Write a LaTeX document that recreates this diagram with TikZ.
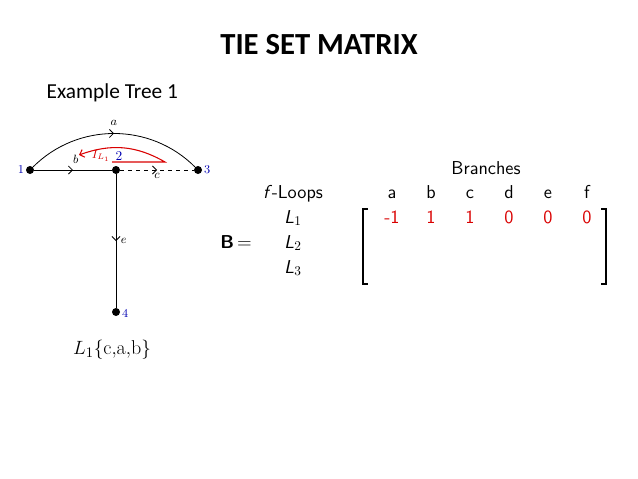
\documentclass[tikz,border=0pt]{standalone}
\usepackage{fontspec}
\newfontfamily\carl{Carlito}
\usetikzlibrary{decorations.markings,arrows.meta}
\begin{document}
\begin{tikzpicture}[x=0.75pt,y=-0.75pt,
  dot/.style={circle,fill,inner sep=0pt,minimum size=6pt},
  num/.style={text=blue!70!black,font=\small},
  lbl/.style={font=\small},
  edge/.style={semithick},
  mid/.style={postaction={decorate},decoration={markings,mark=at position .5 with {\arrow{Straight Barb[length=3pt]}}}},
  mx/.style={font=\sffamily\fontsize{14}{16}\selectfont,anchor=base},
  red/.style={mx,text=red!85!black}]
\useasboundingbox (0,0) rectangle (638,478);
\node[font=\carl\bfseries\fontsize{23}{27}\selectfont] (t) at (319,45) {TIE SET MATRIX};
\node[anchor=west,font=\carl\fontsize{16}{19}\selectfont] (ex) at (42,93) {Example Tree 1};
\node[dot] (n1) at (30,170) {};
\node[dot] (n2) at (116,170) {};
\node[dot] (n3) at (198,170) {};
\node[dot] (n4) at (116,312) {};
\node[num,left,xshift=-1pt] at (n1) {1};
\node[num,right,xshift=1pt] at (n3) {3};
\node[num,right,xshift=1pt,yshift=-1pt] at (n4) {4};
\draw[edge,mid] (n1) -- node[above,lbl,pos=.5,xshift=2pt,yshift=1pt]{$b$} (n2);
\draw[edge,mid,dashed] (n2) -- node[below,lbl,pos=.5,yshift=1pt]{$c$} (n3);
\draw[edge,mid] (n2) -- node[right,lbl,pos=.5]{$e$} (n4);
\draw[edge,mid] (n1) to[out=45,in=135] node[above,lbl,yshift=2pt]{$a$} (n3);
\draw[red!85!black,thick,-{Straight Barb[length=3pt]}] (112,162) -- (165,162) to[out=150,in=20] (79,155);
\node[text=red!85!black,lbl] at (101,156) {$I_{L_1}$};
\node[num,font=\normalsize] at (119,156) {2};
\node[font=\fontsize{15}{18}\selectfont] (lab) at (112,350) {$L_1\{\mathrm{c{,}a{,}b}\}$};
\node[mx] (br) at (486,174) {Branches};
\node[mx] (fl) at (293,198) {{\itshape f}\,-Loops};
\node[mx] (l1) at (293,223) {{\itshape L}$_1$};
\node[mx] (l2) at (293,248) {{\itshape L}$_2$};
\node[mx] (l3) at (293,273) {{\itshape L}$_3$};
\node[mx] (B) at (236,248) {\bfseries B\,{\rmfamily$=$}};
\foreach \c/\x/\v in {a/392/-1,b/431/1,c/470/1,d/509/0,e/548/0,f/587/0}{
  \node[mx] (h\c) at (\x,198) {\c};
  \node[red] (v\c) at (\x,223) {\v};}
\draw[thick] (368,209) -- (363,209) -- (363,284) -- (368,284);
\draw[thick] (601,209) -- (606,209) -- (606,284) -- (601,284);
\end{tikzpicture}
\end{document}
